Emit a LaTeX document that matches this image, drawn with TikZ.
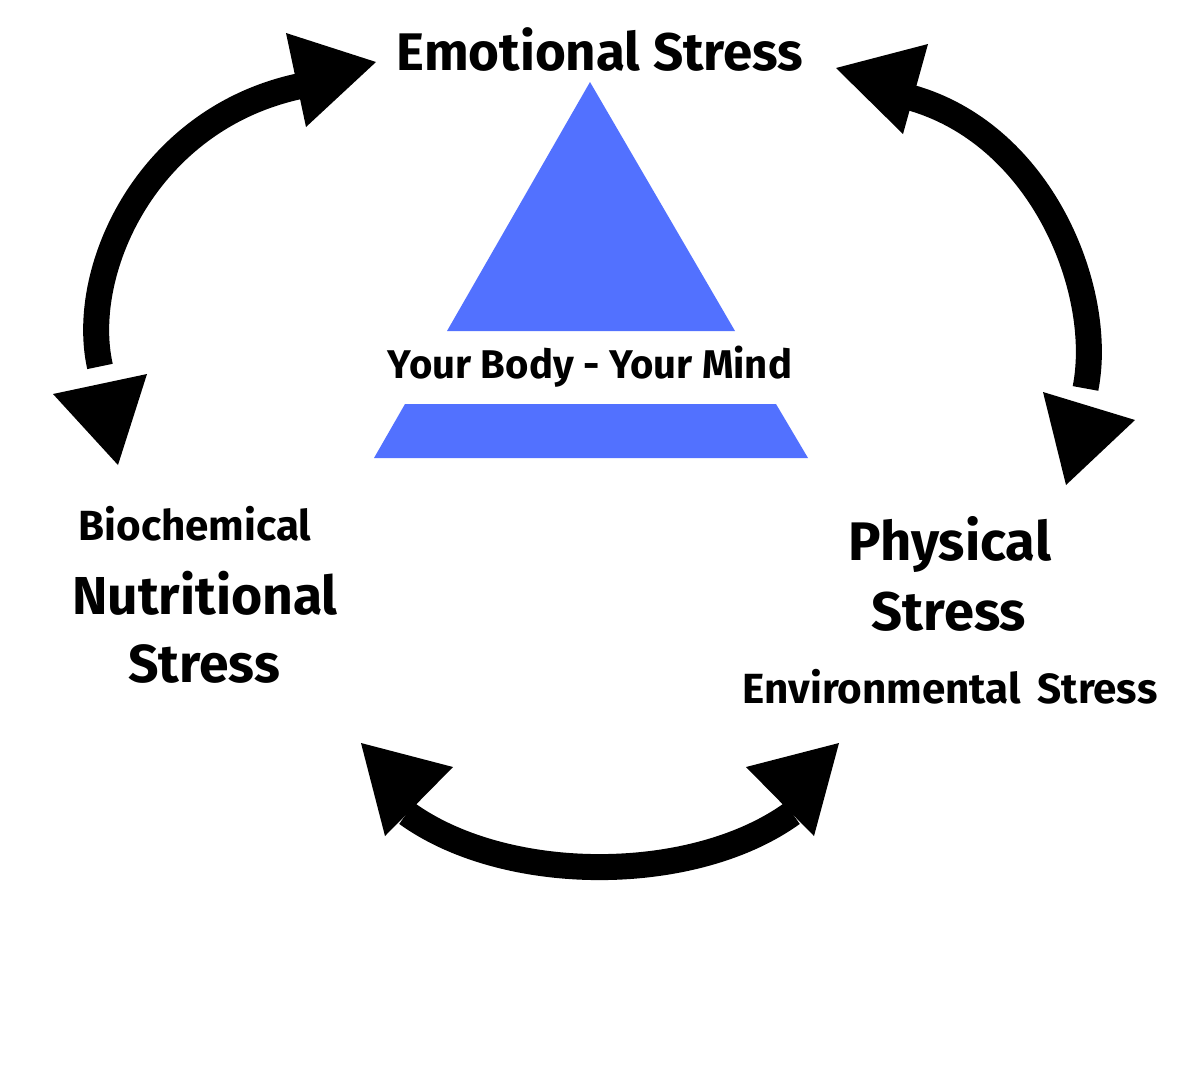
\documentclass[tikz,border=0pt]{standalone}
\usepackage{fontspec}
\setmainfont{Fira Sans}
\definecolor{pyr}{HTML}{5271FF}
\begin{document}
\begin{tikzpicture}[x=0.02cm,y=-0.02cm,
  lbl/.style={inner sep=0pt,anchor=base,font=\bfseries},
  shaft/.style={draw=black,line width=0.52cm,line cap=butt},
  head/.style={fill=black,draw=none},
  block/.style={fill=pyr,draw=none}]
\useasboundingbox[fill=white] (0,0) rectangle (1200,1080);
% pyramid
\fill[block] (590,82) -- (735,331) -- (447,331) -- cycle;
\fill[block] (405,404) -- (776,404) -- (808,458) -- (374,458) -- cycle;
% labels
\node[lbl,font=\bfseries\fontsize{30.1}{32}\selectfont] (emo) at (600,70) {Emotional Stress};
\node[lbl,font=\bfseries\fontsize{22.8}{24}\selectfont] (body) at (590,378) {Your Body - Your Mind};
\node[lbl,font=\bfseries\fontsize{24}{26}\selectfont] (bio) at (195,540) {Biochemical};
\node[lbl,font=\bfseries\fontsize{30.4}{32}\selectfont] (nut) at (205,614) {Nutritional};
\node[lbl,font=\bfseries\fontsize{30.4}{32}\selectfont] (nuts) at (204,682) {Stress};
\node[lbl,font=\bfseries\fontsize{30.9}{32}\selectfont] (phy) at (950,560) {Physical};
\node[lbl,font=\bfseries\fontsize{30.9}{32}\selectfont] (phys) at (949,630) {Stress};
\node[lbl,font=\bfseries\fontsize{24}{26}\selectfont] (env) at (950,703) {Environmental\hspace{0.4em}Stress};
% left arrow
\coordinate (l0) at (100,384);
\coordinate (l1) at (296,80);
\draw[shaft] ([yshift=10]l0) .. controls (78,269) and (150,110) .. ([xshift=10,yshift=-2]l1);
\fill[head] (376,62) -- (286,33) -- (306,127) -- cycle;
\fill[head] (118,465) -- (53,394) -- (147,374) -- cycle;
% right arrow
\coordinate (r0) at (915,89);
\coordinate (r1) at (1089,406);
\draw[shaft] ([xshift=-10,yshift=-3]r0) .. controls (1040,125) and (1105,290) .. ([xshift=-2,yshift=10]r1);
\fill[head] (836,68) -- (928,44) -- (903,134) -- cycle;
\fill[head] (1066,485) -- (1043,392) -- (1135,420) -- cycle;
% bottom arrow
\coordinate (b0) at (419,801);
\coordinate (b1) at (780,801);
\draw[shaft] ([xshift=-7,yshift=-7]b0) .. controls (506,885) and (693,885) .. ([xshift=7,yshift=-7]b1);
\fill[head] (361,743) -- (453,767) -- (385,836) -- cycle;
\fill[head] (839,743) -- (746,767) -- (814,836) -- cycle;
\end{tikzpicture}
\end{document}
